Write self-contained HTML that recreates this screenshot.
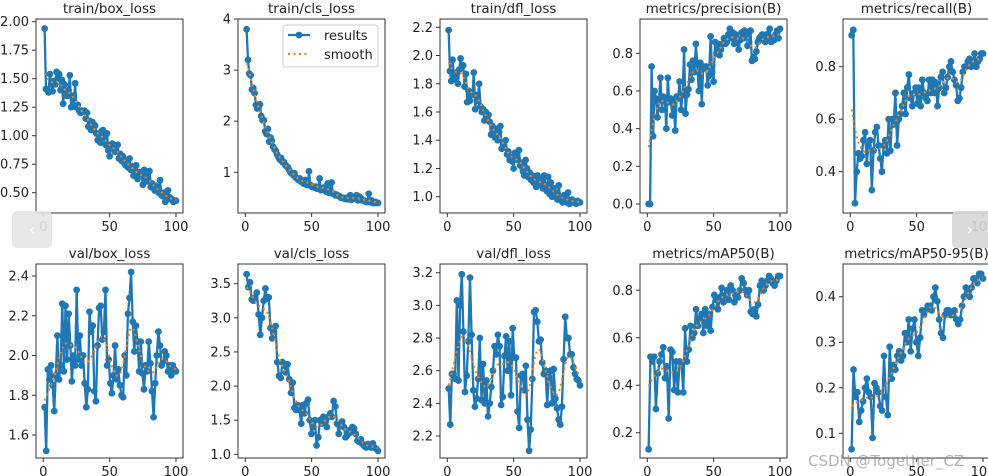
<!DOCTYPE html>
<html><head><meta charset="utf-8"><style>
html,body{margin:0;padding:0;background:#fff;width:988px;height:476px;overflow:hidden}
svg{display:block}
text{font-family:"DejaVu Sans","Liberation Sans",sans-serif;fill:#222}
</style></head><body>
<svg id="fig" width="988" height="476" viewBox="0 0 988 476" xmlns="http://www.w3.org/2000/svg"></svg>
<script>
const titles=["train/box_loss","train/cls_loss","train/dfl_loss","metrics/precision(B)","metrics/recall(B)","val/box_loss","val/cls_loss","val/dfl_loss","metrics/mAP50(B)","metrics/mAP50-95(B)"];
const boxLoss=[1.94,1.41,1.40,1.38,1.54,1.45,1.39,1.48,1.45,1.56,1.50,1.54,1.40,1.49,1.28,1.45,1.38,1.35,1.40,1.53,1.25,1.35,1.28,1.46,1.25,1.27,1.22,1.20,1.22,1.21,1.22,1.15,1.20,1.08,1.13,1.05,1.12,1.07,1.09,1.02,0.96,1.00,0.94,1.04,1.05,0.98,0.92,1.02,0.87,0.82,0.92,0.93,0.90,0.86,0.91,0.92,0.80,0.84,0.78,0.82,0.76,0.74,0.78,0.72,0.80,0.70,0.73,0.65,0.70,0.74,0.62,0.68,0.66,0.68,0.57,0.70,0.65,0.60,0.62,0.69,0.55,0.58,0.54,0.52,0.56,0.52,0.50,0.61,0.48,0.47,0.50,0.42,0.44,0.52,0.46,0.45,0.44,0.42,0.43,0.43];
const clsLoss=[3.8,3.2,2.93,2.9,2.62,2.65,2.55,2.32,2.25,2.28,2.33,2.1,2.02,2.02,1.8,1.75,1.85,1.6,1.68,1.62,1.5,1.45,1.42,1.35,1.3,1.25,1.28,1.2,1.2,1.15,1.12,1.1,1.05,1.0,0.98,0.95,0.98,0.9,0.88,0.85,0.88,0.82,0.80,0.78,0.85,0.76,0.75,1.02,0.75,0.72,0.72,0.70,0.72,0.68,0.70,0.88,0.65,0.68,0.70,0.65,0.62,0.78,0.60,0.65,0.80,0.58,0.58,0.55,0.56,0.54,0.53,0.50,0.50,0.50,0.48,0.50,0.47,0.48,0.55,0.46,0.52,0.50,0.48,0.55,0.45,0.52,0.50,0.45,0.45,0.44,0.42,0.42,0.58,0.42,0.45,0.40,0.40,0.42,0.40,0.40];
const dflLoss=[2.18,1.89,1.82,1.97,1.86,1.83,1.88,1.80,1.90,1.98,1.92,1.93,1.78,1.87,1.67,1.75,1.68,1.72,1.73,1.88,1.62,1.72,1.68,1.80,1.64,1.60,1.62,1.54,1.60,1.55,1.58,1.53,1.44,1.50,1.47,1.42,1.48,1.40,1.46,1.50,1.34,1.37,1.35,1.40,1.30,1.32,1.26,1.28,1.25,1.20,1.31,1.30,1.26,1.33,1.22,1.24,1.18,1.15,1.26,1.20,1.14,1.17,1.12,1.15,1.10,1.13,1.07,1.15,1.10,1.12,1.09,1.06,1.15,1.08,1.04,1.14,1.02,1.10,1.00,1.06,1.03,1.01,0.98,1.08,0.99,0.97,0.96,1.01,0.98,0.96,1.03,0.95,0.97,0.98,0.96,0.96,0.95,0.97,0.96,0.96];
const precision=[0.0,0.0,0.73,0.36,0.60,0.56,0.46,0.55,0.67,0.50,0.57,0.55,0.40,0.67,0.54,0.56,0.47,0.55,0.39,0.57,0.56,0.65,0.50,0.58,0.82,0.48,0.58,0.61,0.74,0.66,0.76,0.70,0.85,0.74,0.60,0.75,0.53,0.73,0.72,0.73,0.63,0.68,0.89,0.70,0.65,0.86,0.80,0.85,0.79,0.82,0.85,0.88,0.85,0.86,0.90,0.93,0.88,0.91,0.85,0.90,0.88,0.82,0.87,0.91,0.88,0.92,0.90,0.84,0.86,0.92,0.76,0.78,0.77,0.81,0.86,0.88,0.89,0.90,0.87,0.86,0.90,0.88,0.93,0.86,0.88,0.87,0.90,0.92,0.88,0.93];
const recall=[0.92,0.94,0.28,0.40,0.47,0.45,0.46,0.52,0.55,0.43,0.50,0.52,0.33,0.48,0.55,0.57,0.50,0.45,0.40,0.50,0.52,0.47,0.60,0.48,0.60,0.58,0.70,0.50,0.60,0.62,0.65,0.70,0.62,0.72,0.77,0.68,0.65,0.70,0.72,0.66,0.72,0.65,0.75,0.70,0.68,0.67,0.75,0.70,0.75,0.70,0.74,0.65,0.72,0.76,0.78,0.70,0.72,0.76,0.80,0.82,0.78,0.75,0.73,0.67,0.68,0.72,0.78,0.80,0.80,0.82,0.83,0.80,0.82,0.85,0.80,0.82,0.83,0.85,0.85];
const valBox=[1.74,1.52,1.93,1.88,1.95,1.85,1.72,1.90,2.10,1.88,1.95,2.26,1.92,2.25,1.98,2.21,2.05,1.87,2.00,1.95,2.33,1.98,2.10,1.95,2.00,1.86,1.74,1.83,2.22,2.12,2.15,1.82,1.77,2.05,2.24,2.25,2.08,2.12,2.33,1.95,1.98,1.86,1.81,1.90,2.05,1.88,1.93,1.85,1.80,1.79,2.00,1.90,2.21,2.29,2.42,2.17,2.02,2.15,2.07,1.92,2.07,1.91,1.83,1.95,1.92,2.07,1.96,1.82,1.69,1.86,2.00,2.12,2.05,1.95,1.97,2.02,2.00,1.92,1.95,1.90,1.95,1.93,1.92];
const valCls=[3.64,3.45,3.52,3.27,3.25,3.30,3.37,3.05,2.75,3.00,3.25,3.43,3.28,3.30,2.85,2.70,2.80,2.88,2.35,2.15,2.12,2.35,2.30,2.20,2.32,2.10,1.90,2.05,1.68,1.65,1.72,1.65,1.45,1.72,1.60,1.75,1.80,1.50,1.30,1.40,1.50,1.13,1.25,1.50,1.45,1.55,1.52,1.40,1.55,1.60,1.55,1.78,1.70,1.45,1.30,1.45,1.48,1.40,1.25,1.28,1.35,1.32,1.40,1.38,1.30,1.20,1.18,1.22,1.15,1.12,1.10,1.15,1.12,1.10,1.16,1.10,1.08,1.05];
const valDfl=[2.49,2.27,2.58,2.58,2.55,3.03,2.54,3.00,3.19,2.84,2.47,2.57,2.78,3.17,2.82,2.48,2.38,2.43,2.55,2.80,2.42,2.64,2.40,2.54,2.32,2.40,2.50,2.60,2.75,2.70,2.82,2.75,2.39,2.44,2.69,2.81,2.60,2.78,2.45,2.86,2.68,2.68,2.35,2.25,2.57,2.58,2.48,2.63,2.30,2.11,2.24,2.55,2.96,2.97,2.90,2.78,2.79,2.65,2.58,2.60,2.39,2.56,2.60,2.40,2.61,2.43,2.37,2.30,2.27,2.38,2.67,2.93,2.80,2.80,2.70,2.70,2.62,2.58,2.55,2.54,2.51];
const map50=[0.13,0.52,0.50,0.52,0.30,0.45,0.50,0.53,0.56,0.43,0.48,0.26,0.55,0.54,0.38,0.50,0.37,0.50,0.49,0.37,0.64,0.50,0.55,0.65,0.60,0.62,0.72,0.65,0.68,0.70,0.62,0.72,0.65,0.70,0.63,0.73,0.78,0.76,0.72,0.77,0.81,0.75,0.78,0.80,0.76,0.82,0.80,0.75,0.78,0.77,0.80,0.85,0.83,0.80,0.78,0.80,0.71,0.70,0.72,0.69,0.74,0.82,0.84,0.80,0.82,0.84,0.86,0.85,0.83,0.82,0.84,0.86,0.86];
const map5095=[0.065,0.24,0.18,0.19,0.125,0.15,0.17,0.20,0.22,0.19,0.18,0.09,0.21,0.20,0.19,0.16,0.15,0.27,0.18,0.14,0.29,0.22,0.25,0.24,0.27,0.28,0.26,0.27,0.32,0.30,0.35,0.28,0.33,0.35,0.30,0.27,0.31,0.37,0.36,0.37,0.38,0.38,0.37,0.40,0.42,0.39,0.35,0.32,0.31,0.36,0.37,0.37,0.36,0.36,0.37,0.35,0.34,0.35,0.38,0.40,0.42,0.41,0.40,0.42,0.44,0.44,0.43,0.45,0.45,0.44];
const seriesList=[boxLoss,clsLoss,dflLoss,precision,recall,valBox,valCls,valDfl,map50,map5095];
const yTicks=[[0.5,0.75,1.0,1.25,1.5,1.75,2.0],[1,2,3,4],[1.0,1.2,1.4,1.6,1.8,2.0,2.2],[0.0,0.2,0.4,0.6,0.8],[0.4,0.6,0.8],[1.6,1.8,2.0,2.2,2.4],[1.0,1.5,2.0,2.5,3.0,3.5],[2.2,2.4,2.6,2.8,3.0,3.2],[0.2,0.4,0.6,0.8],[0.1,0.2,0.3,0.4]];
const yTickLabels=[["0.50","0.75","1.00","1.25","1.50","1.75","2.00"],["1","2","3","4"],["1.0","1.2","1.4","1.6","1.8","2.0","2.2"],["0.0","0.2","0.4","0.6","0.8"],["0.4","0.6","0.8"],["1.6","1.8","2.0","2.2","2.4"],["1.0","1.5","2.0","2.5","3.0","3.5"],["2.2","2.4","2.6","2.8","3.0","3.2"],["0.2","0.4","0.6","0.8"],["0.1","0.2","0.3","0.4"]];
const xTicks=[0,50,100];
const cal=[[2.0,21.7,0.5,192.7],[4,19,1,172.3],[2.2,27.3,1.0,196.7],[0.8,53.3,0.0,204],[0.8,66.7,0.4,171.7],[2.4,276,1.6,435],[3.5,283.7,1.0,454.3],[3.2,272.7,2.2,436],[0.8,290.3,0.2,432.7],[0.4,296.7,0.1,433.3]];
const lefts=[36,238,440,640,843], W=147;
const tops=[19,264], H=194;
const NS="http://www.w3.org/2000/svg";
const svg=document.getElementById('fig');
function mk(tag,attrs,parent){const e=document.createElementNS(NS,tag);for(const k in attrs)e.setAttribute(k,attrs[k]);(parent||svg).appendChild(e);return e;}
function smooth(a){const r=[];for(let i=0;i<a.length;i++){let s=0,w=0;for(let j=-6;j<=6;j++){const k=i+j;if(k<0||k>=a.length)continue;const g=Math.exp(-j*j/18);s+=a[k]*g;w+=g;}r.push(s/w);}return r;}
for(let p=0;p<10;p++){
  const L=lefts[p%5], T=tops[Math.floor(p/5)];
  const c=cal[p];
  const yS=v=>c[1]+(v-c[0])*(c[3]-c[1])/(c[2]-c[0]);
  const xS=v=>L+7.3+v*1.327;
  const g=mk('g',{});
  
  
  const t=mk('text',{x:L+W/2,y:T-6,'text-anchor':'middle','font-size':'13.5'},g);t.textContent=titles[p];
  
  
  const data=seriesList[p], n=data.length;
  const ex=i=>1+i*99/(n-1);
  const cp='cp'+p;
  const cl=mk('clipPath',{id:cp},g);mk('rect',{x:L,y:T,width:W,height:H},cl);
  const pts=data.map((v,i)=>xS(ex(i)).toFixed(1)+','+yS(v).toFixed(1)).join(' ');
  const pl=mk('polyline',{points:pts,fill:'none',stroke:'#1f77b4','stroke-width':2.3,'clip-path':'url(#'+cp+')'},g);
  
  
  data.forEach((v,i)=>{const m=mk('circle',{cx:xS(ex(i)),cy:yS(v),r:3.4,fill:'#1f77b4','clip-path':'url(#'+cp+')'},g);
    
    });
  const sm=smooth(data);
  const sp=mk('polyline',{points:sm.map((v,i)=>xS(ex(i)).toFixed(1)+','+yS(v).toFixed(1)).join(' '),fill:'none',stroke:'#ff7f0e','stroke-width':2,'stroke-dasharray':'2 3.5','clip-path':'url(#'+cp+')'},g);
  
  
  const fr=mk('rect',{x:L,y:T,width:W,height:H,fill:'none',stroke:'#333','stroke-width':1},g);
  
  
  yTicks[p].forEach((v,i)=>{const y=yS(v);mk('line',{x1:L-4,x2:L,y1:y,y2:y,stroke:'#333'},g);
    const tt=mk('text',{x:L-7,y:y+4.5,'text-anchor':'end','font-size':'13'},g);tt.textContent=yTickLabels[p][i];
    
    });
  xTicks.forEach(v=>{const x=xS(v);mk('line',{x1:x,x2:x,y1:T+H,y2:T+H+4,stroke:'#333'},g);
    const tt=mk('text',{x:x,y:T+H+18,'text-anchor':'middle','font-size':'13'},g);tt.textContent=String(v);
    
    });
}
const lg=mk('g',{});


mk('rect',{x:283,y:25,width:95,height:42,rx:3,fill:'#fff',stroke:'#ccc'},lg);
mk('line',{x1:288,x2:310,y1:35,y2:35,stroke:'#1f77b4','stroke-width':2.3},lg);
mk('circle',{cx:299,cy:35,r:3.4,fill:'#1f77b4'},lg);
const l1=mk('text',{x:324,y:40,'font-size':'13'},lg);l1.textContent='results';


mk('line',{x1:288,x2:310,y1:54,y2:54,stroke:'#ff7f0e','stroke-width':2,'stroke-dasharray':'2 3.5'},lg);
const l2=mk('text',{x:324,y:59,'font-size':'13'},lg);l2.textContent='smooth';


const pb=mk('rect',{x:12,y:211,width:40,height:37,rx:5,fill:'#e6e6e6',opacity:0.9});


const nb=mk('rect',{x:952,y:211,width:40,height:37,rx:5,fill:'#d6d6d6',opacity:0.9});


const pc=mk('text',{x:32,y:235,'text-anchor':'middle','font-size':'16'});pc.textContent='‹';pc.style.fill='#fff';


const nc=mk('text',{x:970,y:235,'text-anchor':'middle','font-size':'16'});nc.textContent='›';nc.style.fill='#fff';


const wm=mk('text',{x:808,y:466,'font-size':'15'});wm.textContent='CSDN @Together_CZ';wm.style.fill='rgba(140,140,140,0.65)';


</script>
</body></html>
